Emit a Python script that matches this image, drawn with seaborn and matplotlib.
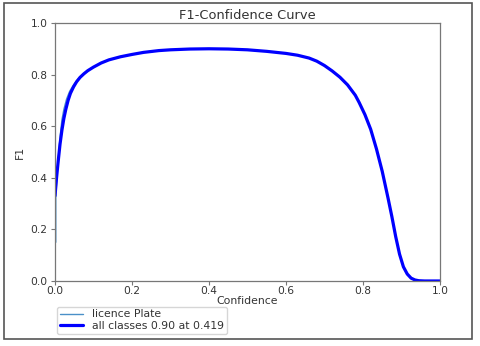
import matplotlib
matplotlib.use("Agg")
import matplotlib.pyplot as plt
import seaborn as sns
import pandas as pd
from matplotlib.patches import Rectangle

# ---- data ----
class_name = "licence Plate"
all_label = "all classes 0.90 at 0.419"

conf_all = [0.0, 0.004, 0.008, 0.013, 0.018, 0.023, 0.028, 0.034, 0.04, 0.048, 0.056,
            0.065, 0.075, 0.085, 0.1, 0.12, 0.14, 0.17, 0.2, 0.23, 0.27, 0.3, 0.35,
            0.4, 0.45, 0.5, 0.55, 0.6, 0.63, 0.66, 0.68, 0.70, 0.72, 0.74, 0.76,
            0.78, 0.79, 0.805, 0.82, 0.835, 0.85, 0.865, 0.875, 0.885, 0.895, 0.905, 0.915,
            0.925, 0.935, 0.945, 0.96, 1.0]
f1_all = [0.33, 0.40, 0.46, 0.53, 0.585, 0.63, 0.665, 0.70, 0.727, 0.752, 0.772,
          0.789, 0.803, 0.815, 0.829, 0.845, 0.857, 0.869, 0.878, 0.886, 0.893, 0.896, 0.899,
          0.900, 0.899, 0.896, 0.890, 0.882, 0.875, 0.864, 0.852, 0.835, 0.814, 0.790, 0.760,
          0.720, 0.692, 0.645, 0.588, 0.512, 0.425, 0.322, 0.250, 0.172, 0.104, 0.055, 0.027,
          0.011, 0.004, 0.001, 0.0, 0.0]

conf_class = [0.002, 0.002, 0.006, 0.01, 0.014, 0.018, 0.023, 0.03, 0.038, 0.048, 0.06,
              0.075, 0.085, 0.1, 0.12, 0.14, 0.17, 0.2, 0.23, 0.27, 0.3, 0.35,
              0.4, 0.45, 0.5, 0.55, 0.6, 0.63, 0.66, 0.68, 0.70, 0.72, 0.74, 0.76,
              0.78, 0.79, 0.805, 0.82, 0.835, 0.85, 0.865, 0.875, 0.885, 0.895, 0.905, 0.915,
              0.925, 0.935, 0.945, 0.96, 1.0]
f1_class = [0.15, 0.33, 0.43, 0.50, 0.57, 0.625, 0.665, 0.705, 0.735, 0.76, 0.783,
            0.803, 0.815, 0.829, 0.845, 0.857, 0.869, 0.878, 0.886, 0.893, 0.896, 0.899,
            0.900, 0.899, 0.896, 0.890, 0.882, 0.875, 0.864, 0.852, 0.835, 0.814, 0.790, 0.760,
            0.720, 0.692, 0.645, 0.588, 0.512, 0.425, 0.322, 0.250, 0.172, 0.104, 0.055, 0.027,
            0.011, 0.004, 0.001, 0.0, 0.0]

x_ticks = [0.0, 0.2, 0.4, 0.6, 0.8, 1.0]
y_ticks = [0.0, 0.2, 0.4, 0.6, 0.8, 1.0]

sns.set_style("ticks")
plt.rcParams['font.family'] = ['DejaVu Sans']
txt = '#333333'
grey = '#777777'

fig = plt.figure(figsize=(4.8, 3.46), dpi=100)
ax = fig.add_axes([0.1146, 0.1879, 0.802, 0.7457])

df_c = pd.DataFrame({"Confidence": conf_class, "F1": f1_class})
df_a = pd.DataFrame({"Confidence": conf_all, "F1": f1_all})

sns.lineplot(data=df_c, x="Confidence", y="F1", ax=ax, estimator=None, sort=False,
             color='#4a90c8', linewidth=1.0, label=class_name)
sns.lineplot(data=df_a, x="Confidence", y="F1", ax=ax, estimator=None, sort=False,
             color='blue', linewidth=2.3, label=all_label, solid_joinstyle='round')

ax.set_xlim(0, 1)
ax.set_ylim(0, 1)
ax.set_xticks(x_ticks)
ax.set_yticks(y_ticks)
ax.set_xticklabels([f"{v:.1f}" for v in x_ticks])
ax.set_yticklabels([f"{v:.1f}" for v in y_ticks])
ax.tick_params(labelsize=7.7, colors=grey, labelcolor=txt, length=3, width=0.8)
ax.tick_params(axis='x', pad=0.8)
ax.tick_params(axis='y', pad=2.5)
for s in ax.spines.values():
    s.set_visible(True)
    s.set_color(grey)
    s.set_linewidth(0.9)

ax.set_xlabel("Confidence", fontsize=7.8, color=txt, labelpad=0)
ax.set_ylabel("F1", fontsize=7.8, color=txt, labelpad=4)
ax.set_title("F1-Confidence Curve", fontsize=9.4, color=txt, pad=3)

leg = ax.legend(loc='upper left', bbox_to_anchor=(0.005, -0.1), borderaxespad=0,
                fontsize=7.8, frameon=True, handlelength=2.2, labelspacing=0.15,
                borderpad=0.25)
for t in leg.get_texts():
    t.set_color(txt)

fig.patches.append(Rectangle((0.0083, 0.0202), 0.975, 0.971, transform=fig.transFigure,
                             fill=False, edgecolor='#555555', linewidth=1.2))

fig.savefig("out.png", dpi=100)
